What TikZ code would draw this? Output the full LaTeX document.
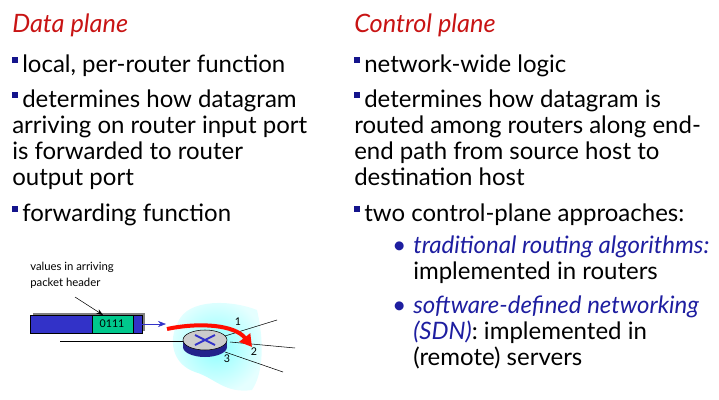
\documentclass[tikz,border=0pt]{standalone}
\usepackage{fontspec}
\setmainfont{Lato}
\usetikzlibrary{arrows.meta}
\definecolor{tred}{RGB}{200,20,20}
\definecolor{bsq}{RGB}{20,20,140}
\definecolor{sub}{RGB}{30,30,160}
\definecolor{pk}{RGB}{50,50,200}
\definecolor{gr}{RGB}{0,200,140}
\begin{document}
\begin{tikzpicture}[x=0.75pt,y=-0.75pt,
  title/.style={anchor=base west,font=\fontsize{19}{22}\selectfont\itshape,text=tred,inner sep=0},
  body/.style={anchor=base west,font=\fontsize{18}{20}\selectfont,inner sep=0},
  subb/.style={anchor=base west,font=\fontsize{18}{20}\selectfont\itshape,text=sub,inner sep=0},
  sq/.style={fill=bsq,minimum size=5pt,inner sep=0}]
\useasboundingbox (0,0) rectangle (719,400);
\node[title] (t1) at (12,32) {Data plane};
\node[title] (t2) at (354,32) {Control plane};
% left
\foreach \y in {65,100,214} \node[sq] at (15,\y-5) {};
\node[body] at (22,72) {local, per-router function};
\node[body] at (22,107) {determines how datagram};
\node[body] at (12,133) {arriving on router input port};
\node[body] at (12,159) {is forwarded to router};
\node[body] at (12,185) {output port};
\node[body] at (22,221) {forwarding function};
% right
\foreach \y in {65,100,214} \node[sq] at (357,\y-5) {};
\node[body] at (364,72) {network-wide logic};
\node[body] at (364,107) {determines how datagram is};
\node[body] at (354,133) {routed among routers along end-};
\node[body] at (354,159) {end path from source host to};
\node[body] at (354,185) {destination host};
\node[body] at (364,221) {two control-plane approaches:};
\node[subb] at (392,253) {•};
\node[subb] at (413,253) {traditional routing algorithms:};
\node[body] at (413,279) {implemented in routers};
\node[subb] at (392,313) {•};
\node[subb] at (413,313) {software-defined networking};
\node[body] at (413,339) {\textcolor{sub}{\itshape (SDN)}: implemented in};
\node[body] at (413,365) {(remote) servers};
% diagram
\node[anchor=base west,font=\fontsize{8.5}{10}\selectfont,inner sep=0] (lab) at (30,270) {values in arriving};
\node[anchor=base west,font=\fontsize{8.5}{10}\selectfont,inner sep=0] (lab2) at (30,286) {packet header};
\fill[gray] (33,313) rectangle (145,331);
\draw[fill=pk] (30,315) rectangle (142,333);
\draw[fill=gr] (92,315) rectangle (133,333);
\node[font=\fontsize{8}{9}\selectfont] (bits) at (112,324) {0111};
\draw[-{Stealth[length=5pt]}] (75,297) -- (103,315);
\coordinate (pe) at (142,324);
\coordinate (pa) at (166,324);
\draw[pk,-{Stealth[length=6pt]}] (pe) -- (pa);
% cloud
\shade[inner color=cyan!45,outer color=cyan!10] (178,322) .. controls (188,298) and (232,300) .. (257,310)
  .. controls (264,340) and (264,372) .. (252,390) .. controls (225,394) and (215,378) .. (195,372)
  .. controls (172,364) and (168,340) .. (178,322) -- cycle;
\draw (60,341) -- (185,341);
\draw (225,336) -- (277,320);
\draw (230,342) -- (295,348);
\draw (225,352) -- (283,372);
% router
\fill[pk!70!black] (205,347) ellipse [x radius=22, y radius=10];
\fill[pk!70!black] (183,340) rectangle (227,347);
\draw[fill=gray!40] (205,340) ellipse [x radius=22, y radius=10];
\draw[pk,line width=1.5pt] (195,335) -- (215,345) (195,345) -- (215,335);
\node[font=\fontsize{8}{9}\selectfont] (n1) at (238,322) {1};
\node[font=\fontsize{8}{9}\selectfont] (n2) at (254,352) {2};
\node[font=\fontsize{8}{9}\selectfont] (n3) at (227,359) {3};
\draw[red!90!orange,line width=3pt,-{Triangle[length=9pt,width=10pt]}] (167,329) .. controls (200,322) and (235,325) .. (252,347);
\end{tikzpicture}
\end{document}
